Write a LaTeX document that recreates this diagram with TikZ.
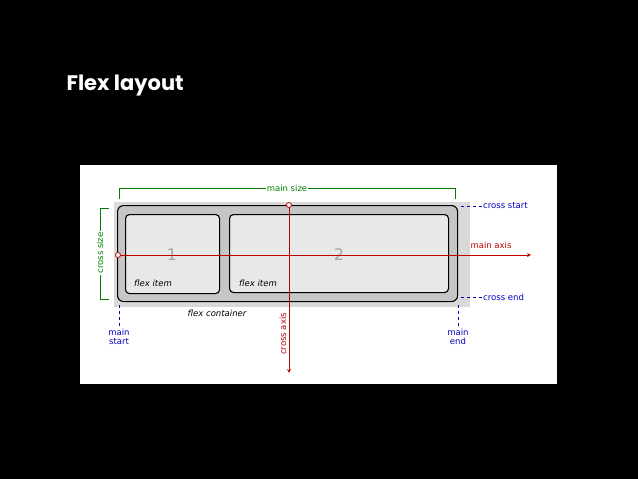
\documentclass[tikz,border=0pt]{standalone}
\usepackage{fontspec}
\setmainfont{DejaVu Sans}
\newfontfamily\titlefont{Poppins}
\begin{document}
\begin{tikzpicture}[x=1pt,y=-1pt,
  lbl/.style={font=\fontsize{8.5}{10}\selectfont,inner sep=1pt},
  bl/.style={lbl,text=blue!75!black,align=center},
  gr/.style={lbl,text=green!50!black},
  rd/.style={lbl,text=red!75!black},
  itm/.style={draw=black,line width=1.1pt,rounded corners=4pt,fill=gray!18},
  dsh/.style={draw=blue!75!black,dashed,line width=0.6pt},
  brk/.style={draw=green!50!black,line width=0.8pt},
  ax/.style={draw=red!75!black,line width=0.8pt,-stealth}]
\fill[black] (0,0) rectangle (638,479);
\useasboundingbox (0,0) rectangle (638,479);
\node[anchor=west,text=white,font=\titlefont\bfseries\fontsize{21}{24}\selectfont] (title) at (63,86) {Flex layout};
\fill[white] (80,165) rectangle (557,384);
\fill[gray!30] (114,202) rectangle (470,307);
\node[draw=black,line width=1.1pt,rounded corners=6pt,fill=gray!45,minimum width=340pt,minimum height=96pt,anchor=north west,inner sep=0pt] (cont) at (117,205) {};
\node[itm,minimum width=94pt,minimum height=79pt,anchor=north west,inner sep=0pt] (i1) at (125,214) {};
\node[itm,minimum width=219pt,minimum height=78pt,anchor=north west,inner sep=0pt] (i2) at (229,214) {};
\node[text=gray!70,font=\fontsize{16}{18}\selectfont] (n1) at (172,255) {1};
\node[text=gray!70,font=\fontsize{16}{18}\selectfont] (n2) at (339,255) {2};
\node[lbl,font=\itshape\fontsize{8.5}{10}\selectfont] (f1) at (153,283) {flex item};
\node[lbl,font=\itshape\fontsize{8.5}{10}\selectfont] (f2) at (258,283) {flex item};
\node[lbl,font=\itshape\fontsize{8.5}{10}\selectfont] (fc) at (217,313) {flex container};
% main size
\coordinate (ms1) at (119,199); \coordinate (ms2) at (455,199);
\node[gr] (msz) at (287,188) {main size};
\draw[brk] (ms1) |- (msz.west);
\draw[brk] (ms2) |- (msz.east);
% cross size
\node[gr,rotate=90] (csz) at (100,253) {cross size};
\coordinate (cs1) at (109,208); \coordinate (cs2) at (109,299);
\draw[brk] (cs1) -| (csz.east);
\draw[brk] (cs2) -| (csz.west);
% axes
\coordinate (ma1) at (118,255); \coordinate (ma2) at (531,255);
\draw[ax] (ma1) -- (ma2);
\draw[red!75!black,line width=0.8pt,fill=white] (ma1) circle (2.5pt);
\node[rd] (mal) at (491,245) {main axis};
\coordinate (ca1) at (289,205); \coordinate (ca2) at (289,373);
\draw[ax] (ca1) -- (ca2);
\draw[red!75!black,line width=0.8pt,fill=white] (ca1) circle (2.5pt);
\node[rd,rotate=90] (cal) at (283,334) {cross axis};
% blue
\node[bl,anchor=west] (cst) at (482,206) {cross start};
\node[bl,anchor=west] (cen) at (482,297) {cross end};
\coordinate (d1) at (461,206); \coordinate (d2) at (461,297);
\draw[dsh] (d1) -- (cst.west);
\draw[dsh] (d2) -- (cen.west);
\node[bl,font=\fontsize{8.5}{9.5}\selectfont] (mst) at (119,337) {main\\start};
\node[bl,font=\fontsize{8.5}{9.5}\selectfont] (men) at (458,337) {main\\end};
\coordinate (e1) at (119,305); \coordinate (e2) at (458,305);
\draw[dsh] (e1) -- (mst.north);
\draw[dsh] (e2) -- (men.north);
\end{tikzpicture}
\end{document}
